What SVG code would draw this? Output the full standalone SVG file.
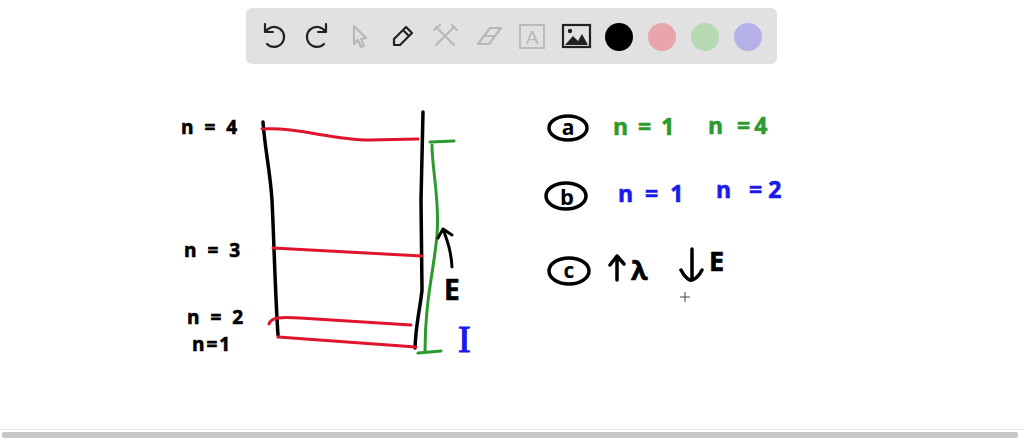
<svg xmlns="http://www.w3.org/2000/svg" width="1024" height="440" viewBox="0 0 1024 440">
<style>
.ink{fill:none;stroke-linecap:round;stroke-linejoin:round}
.k{stroke:#000}
.r{stroke:#e0142c}
.g{stroke:#2e9a2e}
.hw{font-family:"Open Sans","DejaVu Sans",sans-serif;font-weight:700}
.icon{fill:none;stroke:#222;stroke-width:2.2;stroke-linecap:round;stroke-linejoin:round}
.icong{fill:none;stroke:#b8b8b8;stroke-width:2.2;stroke-linecap:round;stroke-linejoin:round}
</style>
<rect width="1024" height="440" fill="#fff"/>
<!-- toolbar -->
<g id="toolbar">
<rect x="246" y="8" width="531" height="56" rx="6" fill="#e1e1e1"/>
<path class="icon" d="M266,31 A10,10 0 1 1 267,44"/><path class="icon" d="M265,24 L265,32 L273,32"/>
<path class="icon" d="M325,31 A10,10 0 1 0 324,44"/><path class="icon" d="M326,24 L326,32 L318,32"/>
<path class="icong" d="M354,26 L366,38 L361,39 L364,46 L361,47 L358,40 L354,44 Z"/>
<path class="icon" d="M394,45 L394,39 L406,27 L412,33 L400,45 Z M403,30 L409,36"/>
<path class="icong" d="M436,27 L454,45 M454,27 L436,45 M434,30 L440,25 M452,25 L457,30"/>
<path class="icong" d="M478,44 L490,28 L501,28 L489,44 Z M484,36 L495,36"/>
<rect x="520" y="25" width="24" height="23" fill="none" stroke="#b8b8b8" stroke-width="1.8"/>
<text x="532" y="44" text-anchor="middle" font-family="Liberation Sans,sans-serif" font-size="19" fill="#b8b8b8">A</text>
<rect x="563" y="25" width="27" height="22" fill="none" stroke="#222" stroke-width="2.2"/>
<path d="M565,45 L573,36 L578,41 L582,34 L588,45 Z" fill="#222"/><circle cx="570" cy="31" r="2.2" fill="#222"/>
<circle cx="619" cy="37" r="14" fill="#000"/>
<circle cx="662" cy="37" r="14" fill="#e8a5ad"/>
<circle cx="705" cy="37" r="14" fill="#b6d8b3"/>
<circle cx="748" cy="37" r="14" fill="#b5b0e8"/>
</g>
<!-- energy level diagram -->
<g id="levels">
<path class="ink k" stroke-width="3.5" d="M263,122 C265,150 270,170 272,200 C274,240 275,290 278,335"/>
<path class="ink k" stroke-width="3.5" d="M423,112 L421,200 L422,290 C420,310 416,322 415,348"/>
<path class="ink r" stroke-width="3" d="M262,129 C300,127 330,140 370,140 L418,139"/>
<path class="ink r" stroke-width="3" d="M273,248 L422,256"/>
<path class="ink r" stroke-width="3" d="M269,324 C271,317 280,317 300,318 L411,325"/>
<path class="ink r" stroke-width="3" d="M278,337 L416,347"/>
<path class="ink g" stroke-width="3" d="M430,142 L454,141"/>
<path class="ink g" stroke-width="3" d="M432,145 C432,170 440,200 437,235 C434,270 425,300 425,351"/>
<path class="ink g" stroke-width="3" d="M418,353 L441,351"/>
<path class="ink k" stroke-width="3" d="M452,267 C451,250 447,240 443,229 M438,238 L443,229 L452,235"/>
<text class="hw" x="444" y="300" font-size="28" fill="#000" stroke="#000" stroke-width="0.6">E</text>
<text x="458" y="352" font-family="Liberation Serif,serif" font-size="38" fill="#1a1aee" stroke="#1a1aee" stroke-width="1.2">I</text>
<g class="hw" font-size="19" fill="#000" letter-spacing="3" stroke="#000" stroke-width="0.6">
<text x="181" y="134">n = 4</text>
<text x="184" y="257">n = 3</text>
<text x="187" y="324">n = 2</text>
<text x="192" y="351" letter-spacing="2">n=1</text>
</g>
</g>
<!-- answers -->
<g id="answers">
<ellipse cx="568" cy="128" rx="19" ry="12" fill="none" stroke="#000" stroke-width="3.5"/>
<text class="hw" x="568" y="135" font-size="21" text-anchor="middle">a</text>
<ellipse cx="566" cy="196" rx="20" ry="13" fill="none" stroke="#000" stroke-width="3.5"/>
<text class="hw" x="567" y="205" font-size="22" text-anchor="middle">b</text>
<ellipse cx="569" cy="271" rx="20" ry="13" fill="none" stroke="#000" stroke-width="3.5"/>
<text class="hw" x="569" y="278" font-size="21" text-anchor="middle">c</text>
<g class="hw" font-size="23" fill="#2e9a2e" stroke="#2e9a2e" stroke-width="0.6" letter-spacing="2">
<text x="613" y="135">n = 1</text>
<text x="708" y="134" letter-spacing="4">n =4</text>
</g>
<g class="hw" font-size="23" fill="#1a1aee" stroke="#1a1aee" stroke-width="0.6" letter-spacing="3">
<text x="618" y="202">n = 1</text>
<text x="716" y="198" letter-spacing="6">n =2</text>
</g>
<path class="ink k" stroke-width="3.5" d="M617,280 L617,257 M610,265 L617,256 L624,264"/>
<path class="ink k" stroke-width="3.5" d="M692,249 L692,280 M681,270 C685,278 690,281 692,280 C696,279 700,274 702,270"/>
<g class="hw" font-size="27" fill="#000" stroke="#000" stroke-width="0.6">
<text x="631" y="280">λ</text>
<text x="709" y="271">E</text>
</g>
<path d="M685,292 L685,302 M680,297 L690,297" stroke="#444" stroke-width="1"/>
</g>
<!-- scrollbar -->
<line x1="0" y1="429.5" x2="1024" y2="429.5" stroke="#e6e6e6" stroke-width="1"/>
<rect x="2" y="432" width="1016" height="6" rx="2" fill="#c6c6c6"/>
</svg>
